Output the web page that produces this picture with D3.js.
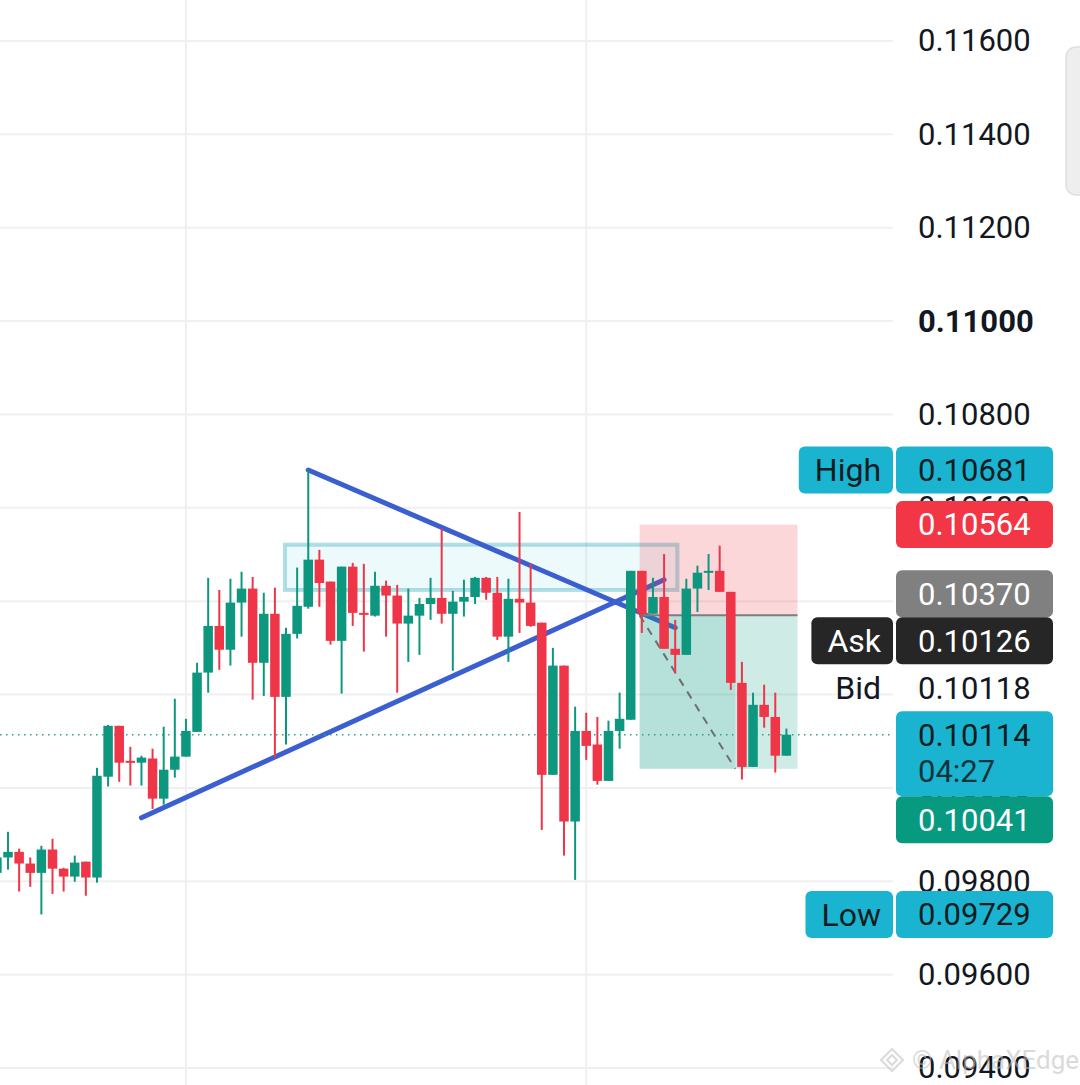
<!DOCTYPE html>
<html>
<head>
<meta charset="utf-8">
<script src="https://cdn.jsdelivr.net/npm/d3@7"></script>
<style>
  html, body { margin: 0; padding: 0; background: #fff; }
  svg { display: block; font-family: Roboto, "Noto Sans", sans-serif; }
</style>
</head>
<body>
<svg id="chart" width="1080" height="1085"></svg>
<script>
// candles (one per bar, left to right)
const opens = [0.09818,0.09851,0.09863,0.09838,0.09818,0.09868,0.09827,0.09810,0.09842,0.09808,
  0.10024,0.10133,0.10058,0.10054,0.10063,0.09977,0.10039,0.10067,0.10120,0.10247,
  0.10347,0.10296,0.10397,0.10427,0.10268,0.10373,0.10195,0.10330,0.10388,0.10489,
  0.10442,0.10315,0.10474,0.10375,0.10369,0.10433,0.10412,0.10352,0.10369,0.10394,
  0.10407,0.10373,0.10399,0.10409,0.10450,0.10418,0.10324,0.10405,0.10397,0.10354,
  0.10028,0.10262,0.09928,0.10122,0.10093,0.10015,0.10122,0.10146,0.10465,0.10373,
  0.10409,0.10298,0.10285,0.10427,0.10463,0.10465,0.10420,0.10225,0.10045,0.10178,
  0.10152,0.10069];
const highs = [0.09868,0.09906,0.09870,0.09851,0.09876,0.09891,0.09829,0.09855,0.09842,0.10043,
  0.10135,0.10133,0.10088,0.10069,0.10084,0.10131,0.10191,0.10148,0.10268,0.10450,
  0.10424,0.10448,0.10463,0.10452,0.10418,0.10429,0.10343,0.10472,0.10681,0.10510,
  0.10442,0.10474,0.10482,0.10480,0.10463,0.10444,0.10435,0.10427,0.10407,0.10450,
  0.10555,0.10422,0.10446,0.10452,0.10452,0.10452,0.10448,0.10591,0.10480,0.10354,
  0.10300,0.10262,0.10174,0.10161,0.10152,0.10144,0.10204,0.10465,0.10465,0.10450,
  0.10501,0.10360,0.10448,0.10476,0.10501,0.10519,0.10420,0.10270,0.10204,0.10221,
  0.10204,0.10127];
const lows = [0.09803,0.09825,0.09778,0.09788,0.09729,0.09773,0.09778,0.09799,0.09769,0.09797,
  0.10003,0.10013,0.10005,0.10005,0.09955,0.09964,0.10022,0.10067,0.10120,0.10204,
  0.10253,0.10262,0.10324,0.10189,0.10197,0.10065,0.10093,0.10320,0.10384,0.10388,
  0.10307,0.10202,0.10347,0.10292,0.10367,0.10324,0.10204,0.10270,0.10285,0.10360,
  0.10352,0.10251,0.10367,0.10394,0.10403,0.10317,0.10270,0.10332,0.10345,0.09910,
  0.10028,0.09855,0.09803,0.10060,0.10007,0.10015,0.10084,0.10146,0.10332,0.10373,
  0.10298,0.10245,0.10285,0.10377,0.10424,0.10420,0.10210,0.10018,0.10045,0.10129,
  0.10033,0.10069];
const closes = [0.09851,0.09863,0.09838,0.09818,0.09868,0.09827,0.09810,0.09840,0.09808,0.10026,
  0.10133,0.10054,0.10056,0.10065,0.09977,0.10039,0.10067,0.10122,0.10247,0.10347,
  0.10296,0.10397,0.10427,0.10268,0.10373,0.10195,0.10330,0.10390,0.10489,0.10439,
  0.10315,0.10474,0.10375,0.10371,0.10433,0.10412,0.10352,0.10369,0.10394,0.10407,
  0.10373,0.10399,0.10409,0.10450,0.10418,0.10324,0.10405,0.10397,0.10347,0.10028,
  0.10262,0.09928,0.10122,0.10090,0.10015,0.10122,0.10148,0.10465,0.10373,0.10409,
  0.10298,0.10285,0.10427,0.10461,0.10465,0.10420,0.10225,0.10045,0.10178,0.10152,
  0.10069,0.10114];

// price grid / axis
const gridPrices = [0.094,0.096,0.098,0.100,0.102,0.104,0.106,0.108,0.110,0.112,0.114,0.116];
const axisPrices = [0.094,0.096,0.098,0.100,0.104,0.106,0.108,0.110,0.112,0.114,0.116];
const boldPrice = 0.110;
const timeGridBars = [17, 53];

// drawings: [barIndex, price]
const fallingLine = [[28, 0.10681], [61, 0.10343]];
const risingLine = [[13, 0.09936], [60, 0.10446]];
const zoneBars = [25.9, 61.2];
const zonePrices = [0.10521, 0.10424];
const positionBars = [57.8, 72.0];
const entryPrice = 0.10370, stopPrice = 0.10564, targetPrice = 0.10041;
const targetHitBar = 66.4;
const lastPrice = 0.10114;

// right-hand price tags
const tagNames  = ['High', '', '', 'Ask', 'Bid', '', '', 'Low'];
const tagPrices = [0.10681, 0.10564, 0.10370, 0.10126, 0.10118, 0.10114, 0.10041, 0.09729];
const tagSub    = ['', '', '', '', '', '04:27', '', ''];
const countdownTag = 5;

const UP = '#0d977f', DOWN = '#ee3648';
const tagFills = ['#1ab4d1', '#f23645', '#808080', '#262626', 'none', '#1ab4d1', '#089981', '#1ab4d1'];
const tagInk   = ['#0f1d22', '#fff', '#fff', '#fff', '#131722', '#0f1d22', '#fff', '#0f1d22'];

const svg = d3.select('#chart');
const plotRight = 893;
const y = d3.scaleLinear().domain([0.094, 0.116]).range([1068, 41]);
const x = d3.scaleLinear().domain([0, 71]).range([-3.1, 786.4]);

// grid
svg.append('g').selectAll('line').data(gridPrices).join('line')
  .attr('x1', 0).attr('x2', plotRight)
  .attr('y1', d => y(d)).attr('y2', d => y(d))
  .attr('stroke', '#f0f0f0').attr('stroke-width', 2);
svg.append('g').selectAll('line').data(timeGridBars).join('line')
  .attr('x1', d => x(d)).attr('x2', d => x(d))
  .attr('y1', 0).attr('y2', 1085)
  .attr('stroke', '#f0f0f0').attr('stroke-width', 2);

// rectangle zone
svg.append('rect')
  .attr('x', x(zoneBars[0])).attr('width', x(zoneBars[1]) - x(zoneBars[0]))
  .attr('y', y(zonePrices[0])).attr('height', y(zonePrices[1]) - y(zonePrices[0]))
  .attr('fill', 'rgba(0,188,212,0.07)')
  .attr('stroke', 'rgba(0,150,170,0.3)').attr('stroke-width', 4);

// trend lines
const line = d3.line().x(d => x(d[0])).y(d => y(d[1]));
svg.append('g').selectAll('path').data([fallingLine, risingLine]).join('path')
  .attr('d', line).attr('fill', 'none')
  .attr('stroke', '#3b5fd0').attr('stroke-width', 5).attr('stroke-linecap', 'round');

// short position tool
const px0 = x(positionBars[0]), px1 = x(positionBars[1]);
svg.append('rect').attr('x', px0).attr('width', px1 - px0)
  .attr('y', y(stopPrice)).attr('height', y(entryPrice) - y(stopPrice))
  .attr('fill', 'rgba(242,54,69,0.2)');
svg.append('rect').attr('x', px0).attr('width', px1 - px0)
  .attr('y', y(entryPrice)).attr('height', y(targetPrice) - y(entryPrice))
  .attr('fill', 'rgba(8,153,129,0.2)');
svg.append('rect').attr('x', px0).attr('width', x(targetHitBar) - px0)
  .attr('y', y(entryPrice)).attr('height', y(targetPrice) - y(entryPrice))
  .attr('fill', 'rgba(8,153,129,0.12)');
svg.append('line').attr('x1', px0).attr('x2', px1)
  .attr('y1', y(entryPrice)).attr('y2', y(entryPrice))
  .attr('stroke', '#7d7d7d').attr('stroke-width', 2);
svg.append('line')
  .attr('x1', px0).attr('y1', y(entryPrice))
  .attr('x2', x(targetHitBar)).attr('y2', y(targetPrice))
  .attr('stroke', '#6e6e6e').attr('stroke-width', 2).attr('stroke-dasharray', '8,7');

// last price dotted line
svg.append('line').attr('x1', 0).attr('x2', plotRight)
  .attr('y1', y(lastPrice)).attr('y2', y(lastPrice))
  .attr('stroke', '#2aa391').attr('stroke-width', 1.5).attr('stroke-dasharray', '1.5,4.5');

// candles
const bars = d3.range(opens.length);
const bodyW = 9.5;
const cg = svg.append('g').selectAll('g').data(bars).join('g')
  .attr('fill', i => closes[i] >= opens[i] ? UP : DOWN)
  .attr('stroke', i => closes[i] >= opens[i] ? UP : DOWN);
cg.append('line')
  .attr('x1', i => x(i)).attr('x2', i => x(i))
  .attr('y1', i => y(highs[i])).attr('y2', i => y(lows[i]))
  .attr('stroke-width', 2);
cg.append('rect')
  .attr('x', i => x(i) - bodyW / 2).attr('width', bodyW)
  .attr('y', i => y(Math.max(opens[i], closes[i])))
  .attr('height', i => Math.max(2, Math.abs(y(opens[i]) - y(closes[i]))))
  .attr('stroke', 'none');

// price axis
const axis = d3.axisRight(y).tickValues(axisPrices).tickFormat(d3.format('.5f'))
  .tickSize(0).tickPadding(0);
const ag = svg.append('g').attr('transform', 'translate(918,0)').call(axis);
ag.select('.domain').remove();
ag.selectAll('text')
  .attr('font-size', 31).attr('fill', '#131722')
  .attr('font-family', 'Roboto, "Noto Sans", sans-serif')
  .attr('font-weight', d => Math.abs(d - boldPrice) < 1e-9 ? 'bold' : 'normal');

// price tags, stacked around the last-price tag
const tagH = 47, tagHCountdown = 85;
const tops = tagPrices.map(p => y(p) - tagH / 2);
const heights = tagPrices.map((p, i) => tagSub[i] ? tagHCountdown : tagH);
for (let i = countdownTag - 1; i >= 0; i--) {
  const bottom = Math.min(tops[i] + heights[i], tops[i + 1]);
  tops[i] = bottom - heights[i];
}
for (let i = countdownTag + 1; i < tagPrices.length; i++) {
  tops[i] = Math.max(tops[i], tops[i - 1] + heights[i - 1]);
}

const tg = svg.append('g').selectAll('g').data(d3.range(tagPrices.length)).join('g')
  .attr('transform', i => `translate(0,${tops[i]})`);
tg.append('rect')
  .attr('x', 896).attr('width', 157).attr('height', i => heights[i]).attr('rx', 6)
  .attr('fill', i => tagFills[i]);
tg.append('text')
  .attr('x', 918).attr('y', tagH / 2).attr('dy', '0.35em')
  .attr('font-size', 31).attr('fill', i => tagInk[i])
  .text(i => d3.format('.5f')(tagPrices[i]));
tg.filter(i => tagSub[i]).append('text')
  .attr('x', 918).attr('y', 60).attr('dy', '0.35em')
  .attr('font-size', 31).attr('fill', i => tagInk[i]).attr('opacity', 0.85)
  .text(i => tagSub[i]);
const named = tg.filter(i => tagNames[i]);
const nameText = named.append('text')
  .attr('x', 881).attr('y', tagH / 2).attr('dy', '0.35em')
  .attr('text-anchor', 'end').attr('font-size', 32).attr('fill', i => tagInk[i])
  .text(i => tagNames[i]);
nameText.each(function (i) {
  const w = this.getComputedTextLength();
  d3.select(this.parentNode).insert('rect', 'text')
    .attr('x', 881 - w - 16).attr('width', w + 16 + 12).attr('height', tagH).attr('rx', 6)
    .attr('fill', tagFills[i]);
});

// scroll handle at the right edge
svg.append('rect').attr('x', 1066).attr('y', 47).attr('width', 24).attr('height', 148)
  .attr('rx', 10).attr('fill', '#eeeeee').attr('stroke', '#dedede').attr('stroke-width', 1.5);

// watermark
const wm = svg.append('g').attr('opacity', 0.55);
wm.append('path').attr('d', 'M892,1049 L903,1060 L892,1071 L881,1060 Z M892,1055 L897,1060 L892,1065 L887,1060 Z')
  .attr('fill', 'none').attr('stroke', '#bdbdbd').attr('stroke-width', 2);
wm.append('text').attr('x', 912).attr('y', 1069).attr('font-size', 26).attr('fill', '#bdbdbd')
  .text('© AlphaXEdge');
</script>
</body>
</html>
